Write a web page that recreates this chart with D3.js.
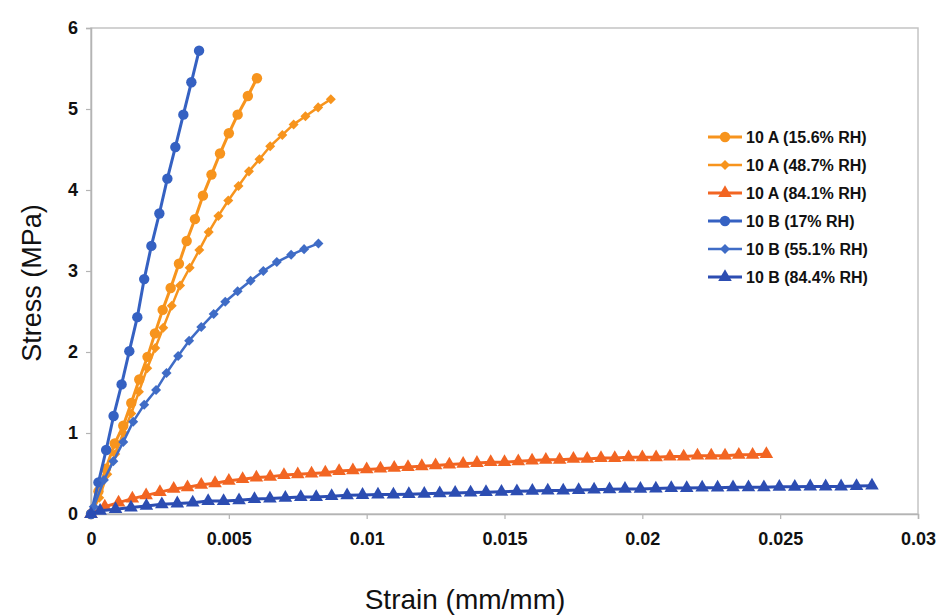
<!DOCTYPE html>
<html>
<head>
<meta charset="utf-8">
<script src="https://cdn.jsdelivr.net/npm/d3@7"></script>
<style>
  body { margin: 0; background: #fff; }
  svg text { font-family: "Liberation Sans", Arial, Helvetica, sans-serif; }
</style>
</head>
<body>
<div id="chart"></div>
<script>
// series names as in legend
const seriesNames = ["10 A (15.6% RH)", "10 A (48.7% RH)", "10 A (84.1% RH)", "10 B (17% RH)", "10 B (55.1% RH)", "10 B (84.4% RH)"]

const xTicks = [0, 0.005, 0.01, 0.015, 0.02, 0.025, 0.03]
const yTicks = [0, 1, 2, 3, 4, 5, 6]

// 10 A (15.6% RH)
const a156_x = [0, 0.00027, 0.00054, 0.00086, 0.00117, 0.00146, 0.00175, 0.00205, 0.00232, 0.0026, 0.00289, 0.00319, 0.00347, 0.00377, 0.00406, 0.00437, 0.00468, 0.005, 0.00532, 0.00569, 0.00602]
const a156_y = [0, 0.28, 0.56, 0.87, 1.09, 1.37, 1.66, 1.94, 2.23, 2.52, 2.79, 3.09, 3.37, 3.64, 3.93, 4.19, 4.45, 4.70, 4.93, 5.16, 5.38]

// 10 A (48.7% RH)
const a487_x = [0, 0.0003, 0.00059, 0.00088, 0.00117, 0.00146, 0.00174, 0.00204, 0.00233, 0.00262, 0.00293, 0.00323, 0.00358, 0.00393, 0.00427, 0.00462, 0.00498, 0.00535, 0.00573, 0.00611, 0.0065, 0.00694, 0.00735, 0.00778, 0.00824, 0.0087]
const a487_y = [0, 0.20, 0.49, 0.74, 1.00, 1.24, 1.51, 1.80, 2.05, 2.30, 2.57, 2.82, 3.04, 3.26, 3.48, 3.68, 3.87, 4.05, 4.23, 4.38, 4.54, 4.68, 4.81, 4.91, 5.02, 5.12]

// 10 A (84.1% RH)
const a841_x = [0, 0.0005, 0.001, 0.0015, 0.002, 0.0025, 0.003, 0.0035, 0.004, 0.0045,
  0.005, 0.0055, 0.006, 0.0065, 0.007, 0.0075, 0.008, 0.0085, 0.009, 0.0095,
  0.01, 0.0105, 0.011, 0.0115, 0.012, 0.0125, 0.013, 0.0135, 0.014, 0.0145,
  0.015, 0.0155, 0.016, 0.0165, 0.017, 0.0175, 0.018, 0.0185, 0.019, 0.0195,
  0.02, 0.0205, 0.021, 0.0215, 0.022, 0.0225, 0.023, 0.0235, 0.024, 0.0245]
const a841_y = [0, 0.09, 0.14, 0.19, 0.23, 0.27, 0.31, 0.33, 0.36, 0.38,
  0.41, 0.43, 0.45, 0.46, 0.48, 0.49, 0.50, 0.51, 0.53, 0.54,
  0.55, 0.56, 0.57, 0.58, 0.59, 0.60, 0.61, 0.62, 0.63, 0.64,
  0.64, 0.65, 0.66, 0.67, 0.67, 0.68, 0.68, 0.69, 0.69, 0.70,
  0.70, 0.70, 0.71, 0.71, 0.72, 0.72, 0.72, 0.73, 0.73, 0.74]

// 10 B (17% RH)
const b17_x = [0, 0.00027, 0.00055, 0.00082, 0.00111, 0.00139, 0.00168, 0.00193, 0.00219, 0.00248, 0.00277, 0.00306, 0.00335, 0.00364, 0.00392]
const b17_y = [0, 0.39, 0.79, 1.21, 1.60, 2.01, 2.43, 2.90, 3.31, 3.71, 4.14, 4.53, 4.93, 5.33, 5.72]

// 10 B (55.1% RH)
const b551_x = [0, 0.0001, 0.00047, 0.00081, 0.00117, 0.00153, 0.00193, 0.00236, 0.00274, 0.00316, 0.00356, 0.004, 0.00445, 0.00487, 0.00532, 0.00579, 0.00625, 0.00674, 0.00726, 0.00773, 0.00825]
const b551_y = [0, 0.09, 0.42, 0.65, 0.89, 1.14, 1.35, 1.53, 1.74, 1.95, 2.14, 2.31, 2.47, 2.62, 2.75, 2.88, 3.00, 3.11, 3.20, 3.27, 3.34]

// 10 B (84.4% RH)
const b844_x = [0, 0.00033, 0.00089, 0.00145, 0.00201, 0.00257, 0.00313, 0.00369, 0.00425, 0.00481, 0.00537,
  0.00593, 0.00649, 0.00705, 0.00761, 0.00817, 0.00873, 0.00929, 0.00985, 0.01041, 0.01097,
  0.01153, 0.01209, 0.01265, 0.01321, 0.01377, 0.01433, 0.01489, 0.01545, 0.01601, 0.01657,
  0.01713, 0.01769, 0.01825, 0.01881, 0.01937, 0.01993, 0.02049, 0.02105, 0.02161, 0.02217,
  0.02273, 0.02329, 0.02385, 0.02441, 0.02497, 0.02553, 0.02609, 0.02665, 0.02721, 0.02777, 0.02833]
const b844_y = [0, 0.04, 0.06, 0.08, 0.10, 0.12, 0.13, 0.14, 0.16, 0.16, 0.17,
  0.185, 0.19, 0.20, 0.21, 0.21, 0.22, 0.23, 0.235, 0.24, 0.24,
  0.245, 0.25, 0.255, 0.26, 0.265, 0.27, 0.275, 0.28, 0.285, 0.29,
  0.29, 0.295, 0.30, 0.305, 0.31, 0.31, 0.315, 0.32, 0.32, 0.325,
  0.325, 0.33, 0.33, 0.33, 0.335, 0.335, 0.34, 0.34, 0.34, 0.345, 0.35]

const WIDTH = 944
const HEIGHT = 615
const LEFT = 91, RIGHT = 26, TOP = 28, BOTTOM = 101

const colors = ["#f7941d", "#f7941d", "#f26522", "#3561c2", "#3f6cc6", "#2c4db2"]
const shapes = ["circle", "diamond", "triangle", "circle", "diamond", "triangle"]
const widths = [3, 2.5, 3, 3, 2.5, 3]

const allX = [a156_x, a487_x, a841_x, b17_x, b551_x, b844_x]
const allY = [a156_y, a487_y, a841_y, b17_y, b551_y, b844_y]
const series = seriesNames.map((name, i) => ({
  name: name, color: colors[i], shape: shapes[i], width: widths[i],
  points: allX[i].map((x, j) => ({x: x, y: allY[i][j]}))
}))

const svg = d3.select("#chart").append("svg").attr("width", WIDTH).attr("height", HEIGHT)

const x_scale = d3.scaleLinear().domain([0, 0.03]).range([LEFT, WIDTH - RIGHT])
const y_scale = d3.scaleLinear().domain([0, 6]).range([HEIGHT - BOTTOM, TOP])

// plot frame
svg.append("rect").attr("x", LEFT).attr("y", TOP)
  .attr("width", x_scale(0.03) - LEFT).attr("height", y_scale(0) - TOP)
  .attr("fill", "none").attr("stroke", "#c4c4c4").attr("stroke-width", 1.5)

// axes
const gen_x = d3.axisBottom(x_scale).tickValues(xTicks).tickFormat(d => d3.format("~g")(d)).tickSize(5).tickPadding(13)
const x_axis = svg.append("g").attr("transform", "translate(0," + y_scale(0) + ")").call(gen_x)

const gen_y = d3.axisLeft(y_scale).tickValues(yTicks).tickFormat(d3.format("d")).tickSize(5).tickPadding(8)
const y_axis = svg.append("g").attr("transform", "translate(" + LEFT + ",0)").call(gen_y)

;[x_axis, y_axis].forEach(ax => {
  ax.select(".domain").attr("stroke", "#b4b4b4").attr("stroke-width", 1.5)
  ax.selectAll(".tick line").attr("stroke", "#b4b4b4").attr("stroke-width", 1.2)
  ax.selectAll(".tick text").attr("fill", "#111").style("font-size", "18px").style("font-weight", "bold")
    .style("font-family", '"Liberation Sans", Arial, sans-serif')
})

// axis titles
svg.append("text").attr("x", 465).attr("y", 609).attr("text-anchor", "middle")
  .style("font-size", "28px").attr("fill", "#111").text("Strain (mm/mm)")
svg.append("text").attr("transform", "translate(41,283) rotate(-90)")
  .attr("text-anchor", "middle").style("font-size", "27px").attr("fill", "#111").text("Stress (MPa)")

function symbolFor(shape) {
  if (shape == "circle") return d3.symbol().type(d3.symbolCircle).size(85)
  if (shape == "diamond") return d3.symbol().type(d3.symbolDiamond2).size(64)
  return d3.symbol().type(d3.symbolTriangle).size(80)
}

const line = d3.line().x(d => x_scale(d.x)).y(d => y_scale(d.y))

series.forEach(s => {
  const g = svg.append("g")
  g.append("path").datum(s.points).attr("d", line).attr("fill", "none")
    .attr("stroke", s.color).attr("stroke-width", s.width).attr("stroke-linejoin", "round")
  g.selectAll("path.mark").data(s.points).enter().append("path").attr("class", "mark")
    .attr("transform", d => "translate(" + x_scale(d.x) + "," + y_scale(d.y) + ")")
    .attr("d", symbolFor(s.shape)).attr("fill", s.color)
})

// legend
const legend = svg.append("g").attr("transform", "translate(708,137)")
series.forEach((s, i) => {
  const row = legend.append("g").attr("transform", "translate(0," + (i * 28) + ")")
  row.append("line").attr("x1", 0).attr("x2", 34).attr("y1", 0).attr("y2", 0)
    .attr("stroke", s.color).attr("stroke-width", s.width)
  row.append("path").attr("transform", "translate(17,0)").attr("d", symbolFor(s.shape)).attr("fill", s.color)
  row.append("text").attr("x", 38).attr("y", 6).style("font-size", "16px").style("font-weight", "bold")
    .attr("fill", "#111").text(s.name)
})
</script>
</body>
</html>
